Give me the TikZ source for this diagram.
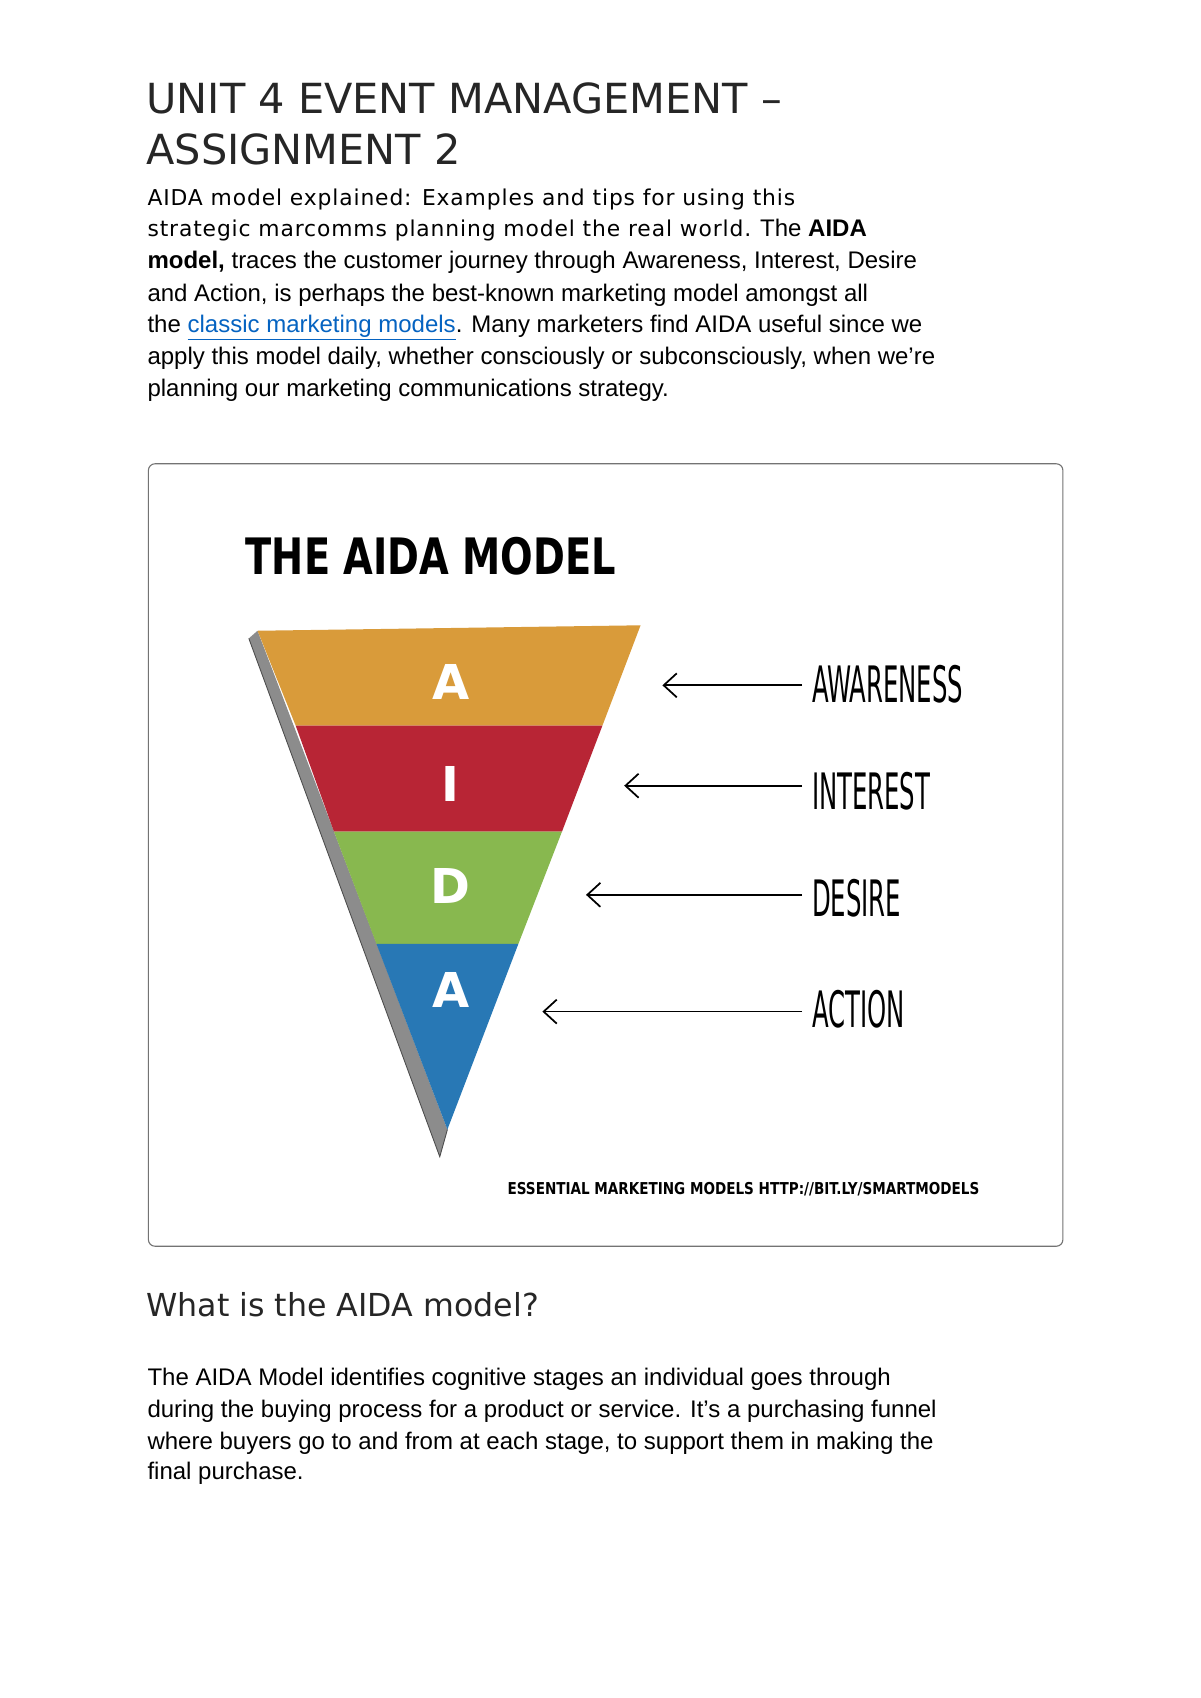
\documentclass[tikz,border=0pt]{standalone}
\usepackage{fontspec}
\setmainfont{Liberation Sans}
\newfontfamily\dvs{DejaVu Sans}
\newfontfamily\dvsl[LetterSpace=4]{DejaVu Sans}
\newfontfamily\dvc{DejaVu Sans Condensed}
\usetikzlibrary{arrows.meta}
\definecolor{aorange}{HTML}{D99B3A}
\definecolor{ared}{HTML}{B82535}
\definecolor{agreen}{HTML}{88B84F}
\definecolor{ablue}{HTML}{2878B5}
\definecolor{linkblue}{HTML}{0563C1}
\tikzset{
 line/.style={anchor=base west,inner sep=0pt,font=\fontsize{22}{26}\selectfont},
 lbl/.style={anchor=west,inner sep=0pt,font=\dvc\fontsize{40}{40}\selectfont,xscale=0.62,yscale=1.15},
 letter/.style={text=white,font=\dvs\bfseries\fontsize{44}{44}\selectfont},
 arr/.style={line width=1.6pt,-{Straight Barb[length=12pt,width=22pt,line width=1.6pt]}}
}
\begin{document}
\begin{tikzpicture}[x=1pt,y=-1pt]
\useasboundingbox (0,0) rectangle (1100,1556);
\fill[white] (0,0) rectangle (1100,1556);
\node[anchor=base west,inner sep=0pt,font=\dvs\fontsize{38}{40}\selectfont,text=black!85] (t1) at (134,104) {UNIT 4 EVENT MANAGEMENT –};
\node[anchor=base west,inner sep=0pt,font=\dvs\fontsize{38}{40}\selectfont,text=black!85] (t2) at (134,151) {ASSIGNMENT 2};
\node[line,font=\dvsl\fontsize{20}{24}\selectfont] (p1) at (135,188) {AIDA model explained: Examples and tips for using this};
\node[line] (p2) at (135,217) {{\dvsl\fontsize{20}{24}\selectfont strategic marcomms planning model the real world.} The \textbf{AIDA}};
\node[line] (p3) at (135,246) {\textbf{model,} traces the customer journey through Awareness, Interest, Desire};
\node[line] (p4) at (135,276) {and Action, is perhaps the best-known marketing model amongst all};
\node[line] (p5) at (135,305) {the \textcolor{linkblue}{\underline{classic marketing models}}. Many marketers find AIDA useful since we};
\node[line] (p6) at (135,334) {apply this model daily, whether consciously or subconsciously, when we're};
\node[line] (p7) at (135,363) {planning our marketing communications strategy.};
% frame
\draw[black!55,line width=1pt,rounded corners=6pt] (136,425) rectangle (974,1142);
\node[anchor=west,inner sep=0pt,font=\dvc\bfseries\fontsize{46}{46}\selectfont,xscale=0.85] (title) at (225,510) {THE AIDA MODEL};
% shadow
\fill[black!45] (228,585) -- (236,578) -- (410,1035) -- (403,1060) -- cycle;
\draw[black!70,line width=0.8pt] (228,585) -- (403,1060) -- (410,1035);
% bands
\fill[aorange] (236,578) -- (587,573) -- (552,665) -- (271,665) -- cycle;
\fill[ared] (271,665) -- (552,665) -- (515,762) -- (306,762) -- cycle;
\fill[agreen] (306,762) -- (515,762) -- (475,865) -- (345,865) -- cycle;
\fill[ablue] (345,865) -- (475,865) -- (410,1035) -- cycle;
\node[letter] (la) at (413,625) {A};
\node[letter] (li) at (413,718) {I};
\node[letter] (ld) at (413,812) {D};
\node[letter] (lb) at (413,907) {A};
% labels and arrows
\node[lbl] (aw) at (744,627) {AWARENESS};
\node[lbl] (in) at (744,725) {INTEREST};
\node[lbl] (de) at (744,823) {DESIRE};
\node[lbl] (ac) at (744,925) {ACTION};
\coordinate (ea) at (607,628); \coordinate (sa) at (735,628);
\coordinate (ei) at (572,720); \coordinate (si) at (735,720);
\coordinate (ed) at (537,820); \coordinate (sd) at (735,820);
\coordinate (ec) at (497,927); \coordinate (sc) at (735,927);
\draw[arr] (sa) -- (ea);
\draw[arr] (si) -- (ei);
\draw[arr] (sd) -- (ed);
\draw[arr] (sc) -- (ec);
\node[anchor=west,inner sep=0pt,font=\dvc\bfseries\fontsize{15}{15}\selectfont,xscale=0.92] (foot) at (465,1090) {ESSENTIAL MARKETING MODELS HTTP://BIT.LY/SMARTMODELS};
% section
\node[anchor=base west,inner sep=0pt,font=\dvs\fontsize{29}{32}\selectfont,text=black!85] (h2) at (134,1206) {What is the AIDA model?};
\node[line] (q1) at (135,1270) {The AIDA Model identifies cognitive stages an individual goes through};
\node[line] (q2) at (135,1299) {during the buying process for a product or service. It's a purchasing funnel};
\node[line] (q3) at (135,1328) {where buyers go to and from at each stage, to support them in making the};
\node[line] (q4) at (135,1356) {final purchase.};
\end{tikzpicture}
\end{document}
